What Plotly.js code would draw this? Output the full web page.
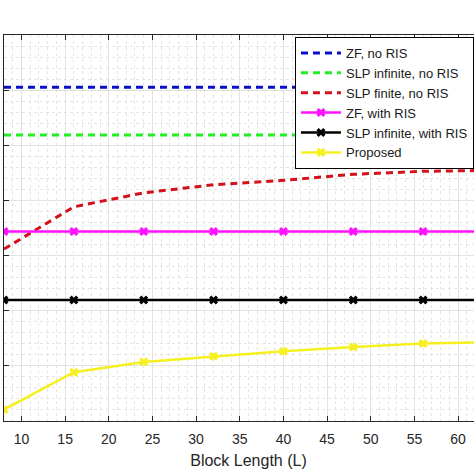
<!DOCTYPE html>
<html>
<head>
<meta charset="utf-8">
<script src="https://cdn.plot.ly/plotly-3.0.1.min.js"></script>
<style>
  html, body { margin: 0; padding: 0; overflow: hidden; background: #ffffff; }
  #chart { width: 500px; height: 474px; }
</style>
</head>
<body>
<div id="chart"></div>
<script>
// Block lengths evaluated
const blockLength = [8, 16, 24, 32, 40, 48, 56, 64];

// Benchmarks without RIS
const zfNoRis          = [30.26, 30.26, 30.26, 30.26, 30.26, 30.26, 30.26, 30.26];
const slpInfiniteNoRis = [25.94, 25.94, 25.94, 25.94, 25.94, 25.94, 25.94, 25.94];
const slpFiniteNoRis   = [15.59, 19.42, 20.69, 21.42, 21.82, 22.37, 22.64, 22.73];

// Schemes with RIS
const zfWithRis          = [17.19, 17.19, 17.19, 17.19, 17.19, 17.19, 17.19, 17.19];
const slpInfiniteWithRis = [10.98, 10.98, 10.98, 10.98, 10.98, 10.98, 10.98, 10.98];
const proposed           = [1.04, 4.42, 5.36, 5.87, 6.32, 6.72, 7.02, 7.15];

const seriesNames = [
  'ZF, no RIS',
  'SLP infinite, no RIS',
  'SLP finite, no RIS',
  'ZF, with RIS',
  'SLP infinite, with RIS',
  'Proposed'
];

const dashed = (y, name, color) => ({
  x: blockLength, y: y, name: name, type: 'scatter', mode: 'lines',
  line: { color: color, width: 3, dash: '7px,5px' }
});
const marked = (y, name, color) => ({
  x: blockLength, y: y, name: name, type: 'scatter', mode: 'lines+markers',
  line: { color: color, width: 2.5 },
  marker: { symbol: 'x', size: 8, color: color }
});

const traces = [
  dashed(zfNoRis, seriesNames[0], '#0a10c8'),
  dashed(slpInfiniteNoRis, seriesNames[1], '#22ee22'),
  dashed(slpFiniteNoRis, seriesNames[2], '#d4101a'),
  marked(zfWithRis, seriesNames[3], '#ff10ff'),
  marked(slpInfiniteWithRis, seriesNames[4], '#000000'),
  marked(proposed, seriesNames[5], '#f6f020')
];

const axisCommon = {
  showline: true, linecolor: '#262626', linewidth: 1,
  mirror: 'ticks', ticks: 'inside', ticklen: 5, tickcolor: '#262626',
  showgrid: true, gridcolor: '#e2e2e2', gridwidth: 1,
  zeroline: false,
  tickfont: { family: 'Liberation Sans, Arial, sans-serif', size: 14, color: '#262626' }
};
const minorGrid = { dtick: 1, showgrid: true, gridcolor: '#e4e4e4', griddash: 'dot', gridwidth: 1 };

const layout = {
  width: 500, height: 474,
  margin: { l: 4, r: 7, t: 35, b: 52.5 },
  paper_bgcolor: '#ffffff', plot_bgcolor: '#ffffff',
  showlegend: true,
  xaxis: Object.assign({}, axisCommon, {
    range: [8, 64], tick0: 0, dtick: 5,
    ticklabelstandoff: 5,
    minor: minorGrid,
    title: { text: 'Block Length (L)', standoff: 9,
             font: { family: 'Liberation Sans, Arial, sans-serif', size: 16, color: '#262626' } }
  }),
  yaxis: Object.assign({}, axisCommon, {
    range: [0, 35], tick0: 0, dtick: 5, showticklabels: false,
    minor: minorGrid
  }),
  legend: {
    x: 0.595, y: 0.995, xanchor: 'left', yanchor: 'top',
    bgcolor: '#ffffff', bordercolor: '#000000', borderwidth: 1,
    itemwidth: 40,
    font: { family: 'Liberation Sans, Arial, sans-serif', size: 13, color: '#1a1a1a' }
  }
};

Plotly.newPlot('chart', traces, layout, { displayModeBar: false, staticPlot: true });
</script>
</body>
</html>
